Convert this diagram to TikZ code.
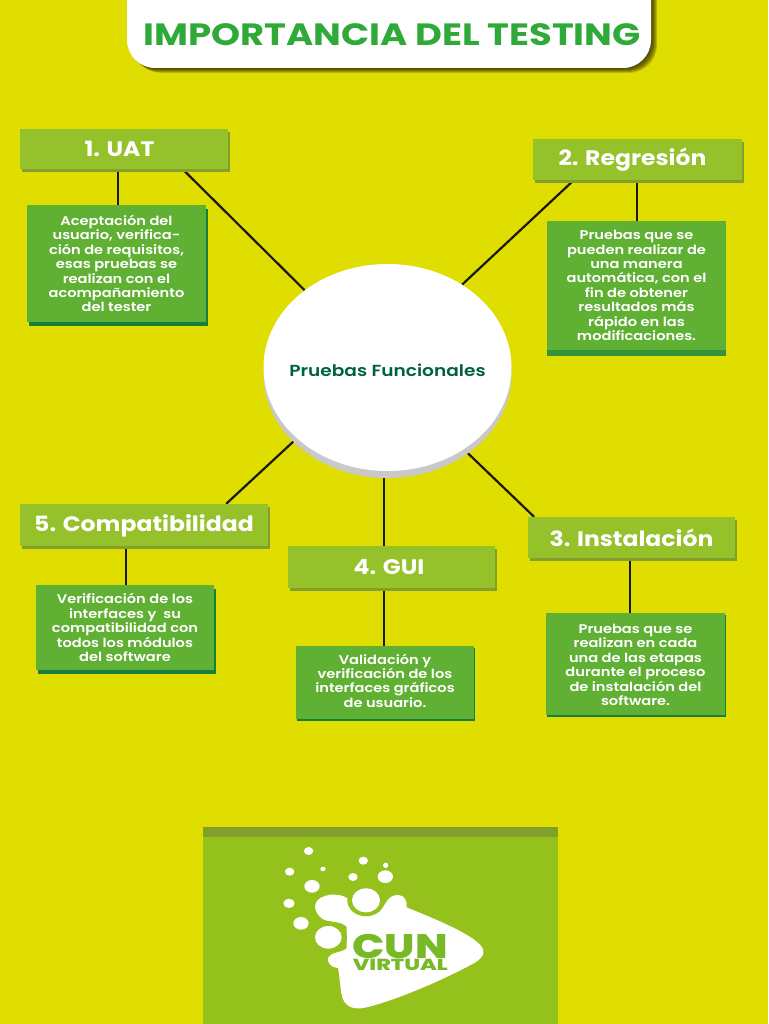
\documentclass[tikz,border=0pt]{standalone}
\usepackage{fontspec}
\setmainfont{Poppins}[FakeStretch=1.16,BoldFont={Poppins SemiBold}]
\newfontfamily\titlefont{Poppins}[FakeStretch=1.2]
\newfontfamily\headfont{Poppins}[FakeStretch=1.12]
\newfontfamily\logofont{Poppins ExtraBold}[FakeStretch=1.1]
\usetikzlibrary{shapes.geometric,shadows,backgrounds,calc}
\definecolor{pagebg}{HTML}{E0DD00}
\definecolor{hdrgreen}{HTML}{95C12B}
\definecolor{hdrshade}{HTML}{84A02C}
\definecolor{descgreen}{HTML}{5FB033}
\definecolor{descshade}{HTML}{157F3B}
\definecolor{titlegreen}{HTML}{2FAA38}
\definecolor{hubtext}{HTML}{00623B}
\definecolor{hubshade}{HTML}{C9C9C9}
\definecolor{footgreen}{HTML}{95C11C}
\definecolor{footband}{HTML}{809F2B}
\definecolor{logotext}{HTML}{78B928}
\definecolor{linecol}{HTML}{1A1A14}
\tikzset{
  hdrbox/.style={rectangle,fill=hdrgreen,text=white,font=\headfont\fontsize{21}{24}\selectfont\bfseries,inner sep=0pt,
    general shadow={fill=hdrshade,shadow xshift=2pt,shadow yshift=-3pt}},
  descbox/.style={rectangle,fill=descgreen,text=white,align=center,inner sep=0pt,
    font=\fontsize{12.6}{14.4}\selectfont\bfseries},
  link/.style={draw=linecol,line width=2.2pt},
  bubble/.style={fill=white,draw=none}
}
\begin{document}
\begin{tikzpicture}[x=1pt,y=-1pt]
\useasboundingbox (0,0) rectangle (768,1024);
\clip (0,0) rectangle (768,1024);

%Page
\begin{pgfonlayer}{background}
\fill [pagebg] (0,0) rectangle (768,1024);
\end{pgfonlayer}

%Title
\foreach \off in {6,5,4,3,2,1}
{
\fill [black!80!pagebg,opacity=.22,rounded corners=28pt] (127+\off,-40) rectangle (651+\off,68+\off*0.8);
}
\fill [white,rounded corners=28pt] (127,-40) rectangle (651,68);
\node (title) at (392,34.5) {\titlefont\fontsize{30.8}{36}\selectfont\bfseries\color{titlegreen}IMPORTANCIA DEL TESTING};

%Hub
\node (hub) [ellipse,fill=white,inner sep=0pt,minimum width=248pt,minimum height=207pt,
  general shadow={fill=hubshade,shadow yshift=-7pt}] at (387.5,367.5)
  {\makebox[0pt][c]{\rule{0pt}{18pt}\fontsize{16}{18}\selectfont\bfseries\color{hubtext}Pruebas Funcionales}};

%Headers
\node (hdrUAT) [hdrbox,minimum width=208pt,minimum height=40pt] at (124,149) {1. UAT\hspace*{9pt}};
\node (hdrReg) [hdrbox,minimum width=209pt,minimum height=41pt] at (637.5,159.5) {\rule{0pt}{18pt}2. Regresión\hspace*{10pt}};
\node (hdrIns) [hdrbox,minimum width=207pt,minimum height=41pt] at (631.5,537.5) {3. Instalación};
\node (hdrGUI) [hdrbox,minimum width=207pt,minimum height=42pt] at (391.5,567) {4. GUI\hspace*{5pt}};
\node (hdrCom) [hdrbox,minimum width=248pt,minimum height=42pt] at (144,525) {\rule{0pt}{19pt}5. Compatibilidad};

%Descriptions
\node (descUAT) [descbox,minimum width=179pt,minimum height=117pt,
  general shadow={fill=descshade,shadow xshift=2pt,shadow yshift=-4pt}] at (116.5,263.5)
  {Aceptación del\\usuario, verifica-\\ción de requisitos,\\esas pruebas se\\realizan con el\\acompañamiento\\del tester};
\node (descReg) [descbox,minimum width=179pt,minimum height=129pt,
  general shadow={fill=descshade!60!descgreen,shadow yshift=-6pt}] at (636.5,285.5)
  {Pruebas que se\\pueden realizar de\\una manera\\automática, con el\\fin de obtener\\resultados más\\rápido en las\\modificaciones.};
\node (descIns) [descbox,minimum width=179pt,minimum height=102pt,
  general shadow={fill=descshade,shadow xshift=1pt,shadow yshift=-2pt}] at (635.5,664)
  {\rule{0pt}{11pt}Pruebas que se\\realizan en cada\\una de las etapas\\durante el proceso\\de instalación del\\software.};
\node (descGUI) [descbox,minimum width=178pt,minimum height=73pt,
  general shadow={fill=descshade,shadow xshift=1pt,shadow yshift=-2pt}] at (385,682.5)
  {Validación y\\verificación de los\\interfaces gráficos\\de usuario.\rule[-4pt]{0pt}{4pt}};
\node (descCom) [descbox,minimum width=178pt,minimum height=85pt,
  general shadow={fill=descshade,shadow xshift=1.5pt,shadow yshift=-4pt}] at (125,627.5)
  {Verificación de los\\interfaces y\ \ su\\compatibilidad con\\todos los módulos\\del software};

%Links
\begin{pgfonlayer}{background}
\draw [link] (hub.137.7) -- (hdrUAT.-19.3);
\draw [link] (hub.48.1) -- (hdrReg.198.9);
\draw [link] (hub.218.4) -- ($(hdrCom.north west)!0.831!(hdrCom.north east)$);
\draw [link] (hub.-47.5) -- (hdrIns.168);
\draw [link] (hdrGUI.109.7) -- (hdrGUI.109.7 |- hub.south);
\foreach \name/\ang in {UAT/-107,Reg/-91,Ins/-95.6,GUI/-109.7,Com/-130.6}
{
\draw [link] (hdr\name.\ang) -- (hdr\name.\ang |- desc\name.north);
}
\end{pgfonlayer}

%Footer
\fill [footgreen] (203,827) rectangle (558,1024);
\fill [footband] (203,827) rectangle (558,836.5);

%Logo
\begin{scope}[shift={(200,820)},x=0.3333pt,y=-0.3333pt]
\fill [white] (620,262) .. controls (700,295) and (800,335) .. (838,372)
  .. controls (858,392) and (855,408) .. (825,428)
  .. controls (730,480) and (590,540) .. (500,562)
  .. controls (460,572) and (430,560) .. (424,520)
  .. controls (420,490) and (418,465) .. (414,444)
  .. controls (395,445) and (378,425) .. (385,412)
  .. controls (395,395) and (420,400) .. (440,385)
  -- (440,320)
  .. controls (420,300) and (385,310) .. (365,295)
  .. controls (340,275) and (338,245) .. (365,232)
  .. controls (400,215) and (440,225) .. (460,250)
  -- (540,270)
  .. controls (560,255) and (560,225) .. (595,225)
  .. controls (615,225) and (622,245) .. (620,262) -- cycle;
\fill [footgreen] (498,241) ellipse [x radius=56,y radius=48];
\fill [footgreen] (385,352) ellipse [x radius=56,y radius=48];
\foreach \cx/\cy/\rx/\ry in {326/93/14/12,269/155/14/12,369/147/8/7,336/199/23/19,
  267/250/17/14,303/310/23/19,385/352/40/34,490/122/14/12,459/171/14/12,
  557/136/8/8,556/170/23/19,498/241/42/36}
{
\fill [bubble] (\cx,\cy) ellipse [x radius=\rx,y radius=\ry];
}
\node (logo) [text=logotext,inner sep=0pt,align=center,font=\logofont] at (601,397)
  {\fontsize{34}{31}\selectfont\scalebox{1.14}[1]{CUN}\\\fontsize{16}{16}\selectfont\scalebox{1.26}[1]{VIRTUAL}};
\end{scope}

\end{tikzpicture}
\end{document}
